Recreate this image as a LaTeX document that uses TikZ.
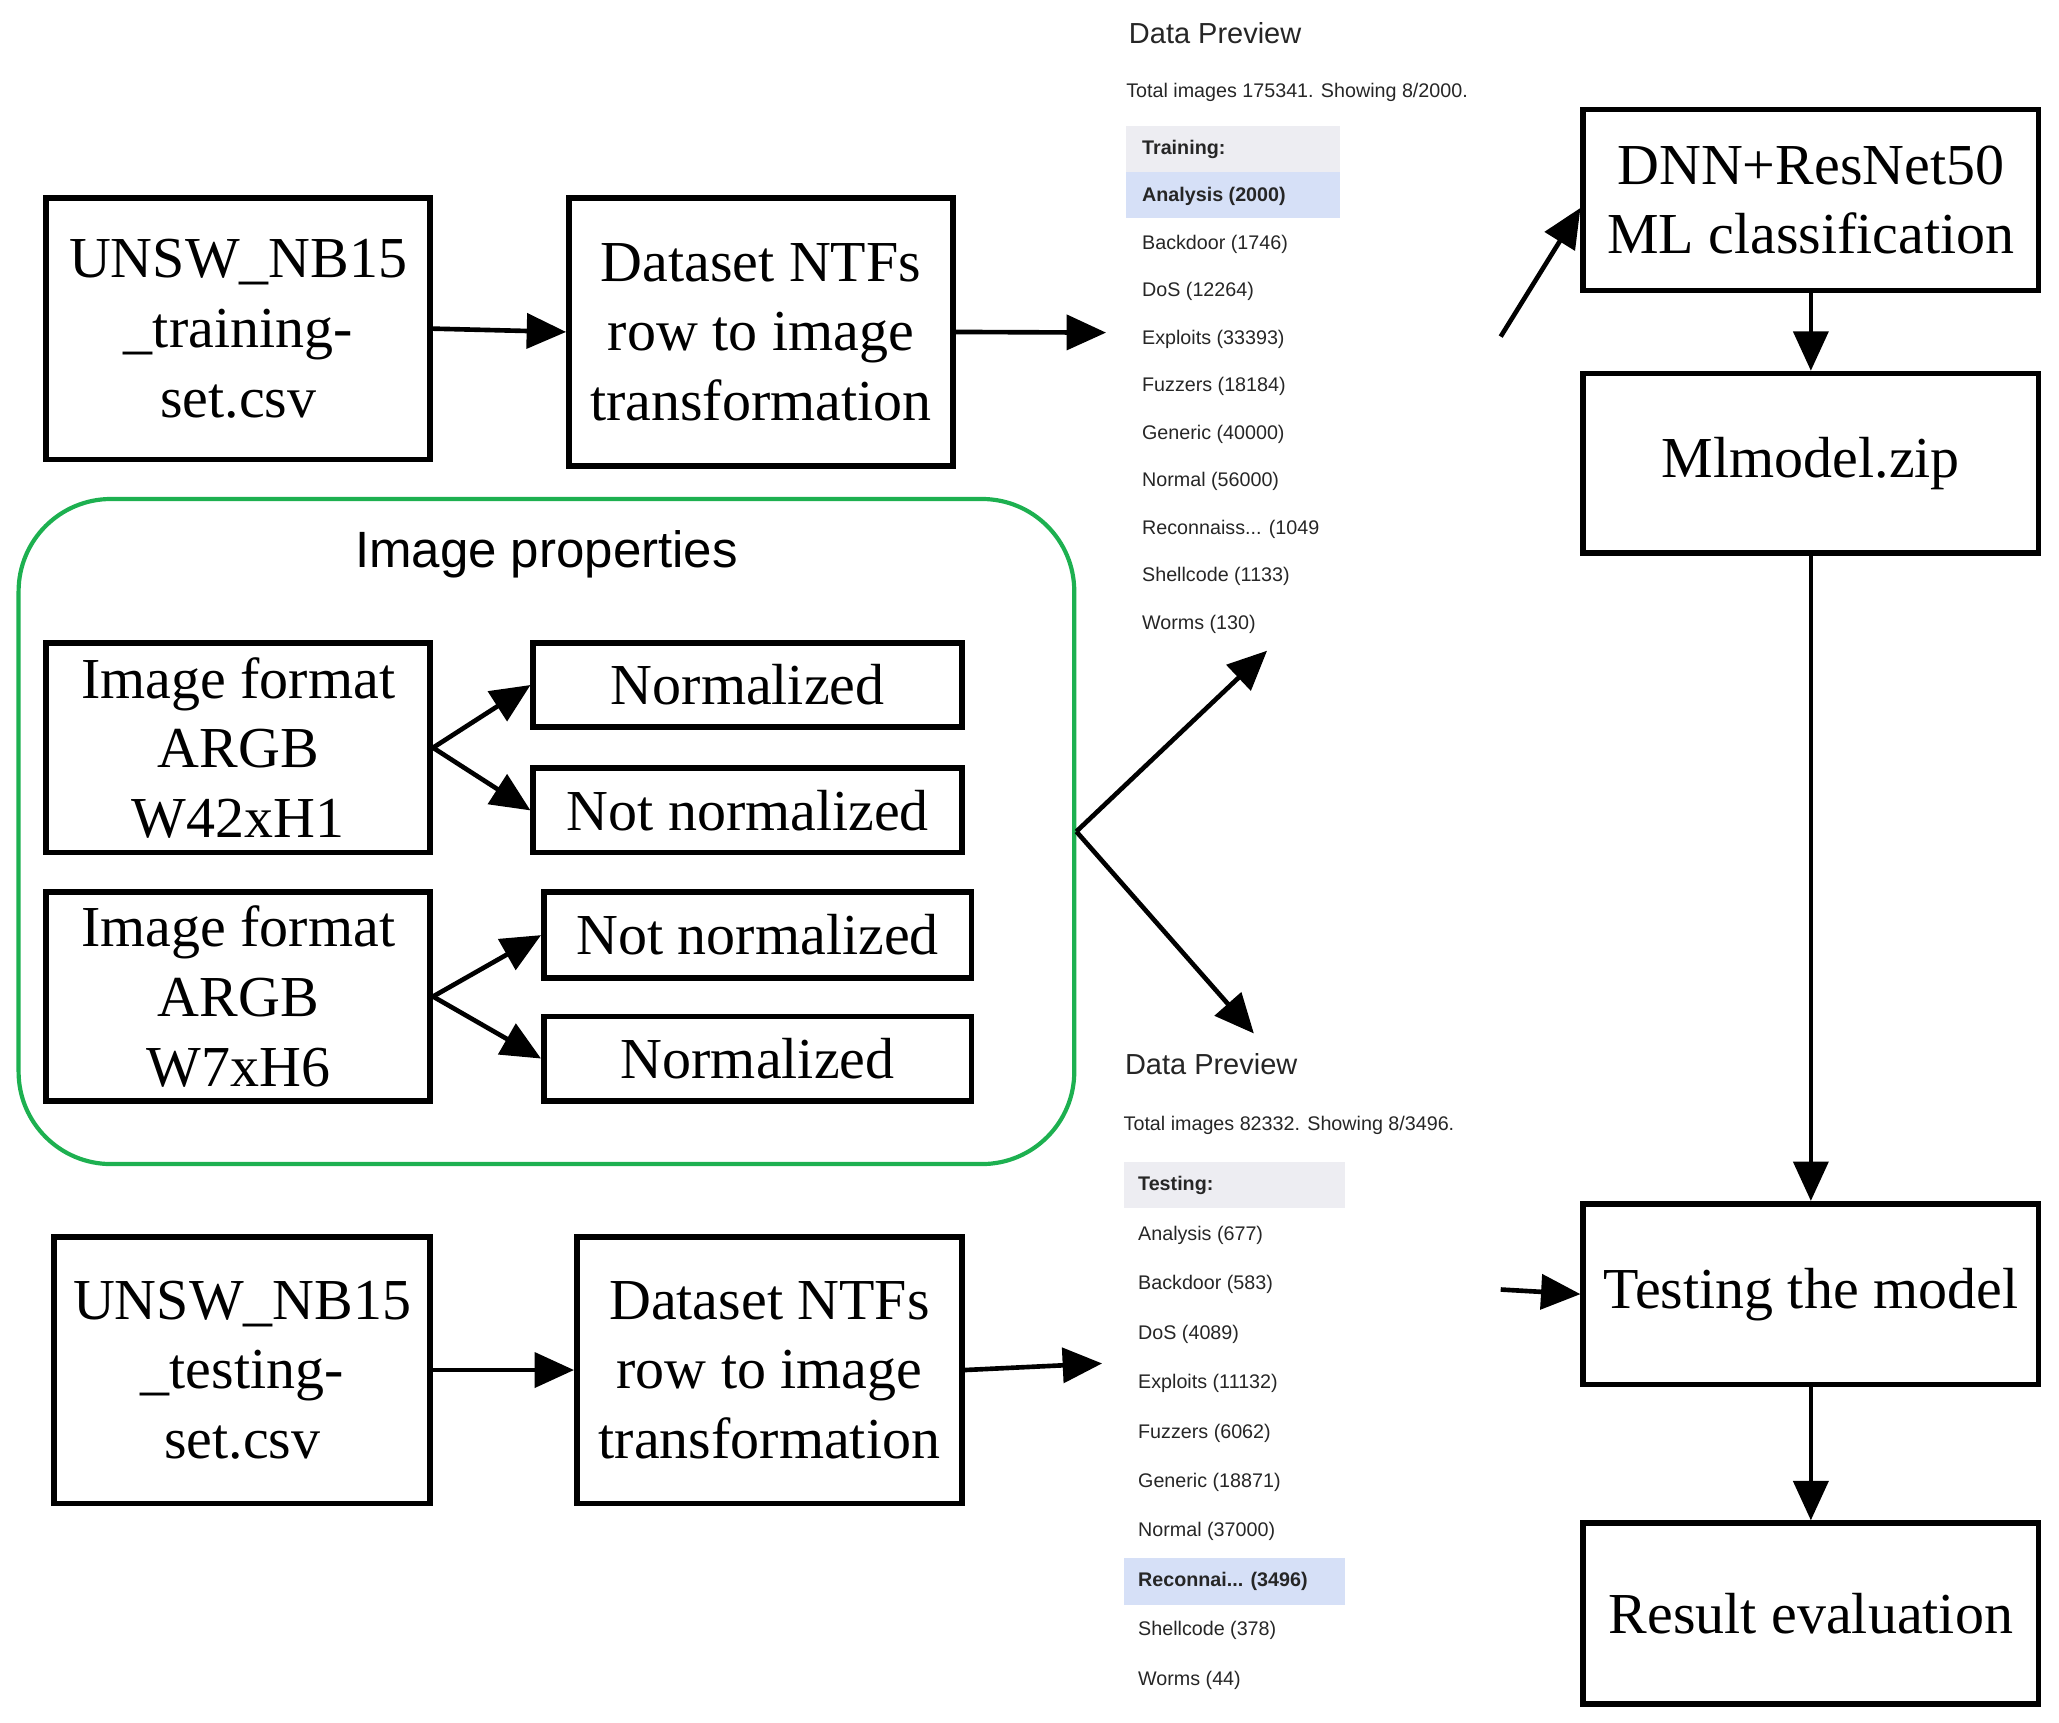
\documentclass[tikz,border=0pt]{standalone}
\usepackage{fontspec}
\setmainfont{Liberation Serif}
\newfontfamily\ui{Liberation Sans}
\usetikzlibrary{arrows.meta}
\definecolor{hdr}{HTML}{EDEDF2}
\definecolor{hil}{HTML}{D6E0F7}
\definecolor{grn}{HTML}{1DB050}
\begin{document}
\begin{tikzpicture}[x=0.02cm,y=-0.02cm,
 box/.style={draw,line width=2.4pt,inner sep=0pt,align=center,font=\fontsize{25}{30}\selectfont},
 arr/.style={line width=2pt,-{Triangle[length=17pt,width=15pt]}},
 item/.style={anchor=west,inner sep=0pt,font=\ui\fontsize{8.5}{10}\selectfont,text=black!85},
 bitem/.style={item,font=\ui\bfseries\fontsize{8.5}{10}\selectfont},
 dp/.style={anchor=west,inner sep=0pt,font=\ui\fontsize{12.5}{14}\selectfont,text=black!85},
 tot/.style={anchor=west,inner sep=0pt,font=\ui\fontsize{8.5}{10}\selectfont,text=black!85},
 bar/.style={anchor=north west,inner sep=0pt,minimum height=0.7cm}]
\useasboundingbox (0,0) rectangle (1560,1305);
% green container
\node[draw=grn,line width=1.8pt,rounded corners=1.4cm,minimum width=16cm,minimum height=10.08cm,inner sep=0pt] (props) at (414,630) {};
\node[font=\ui\fontsize{22}{26}\selectfont] (pt) at (414,420) {Image properties};
% boxes
\node[box,minimum width=5.82cm,minimum height=3.96cm] (b1) at (180.5,249) {UNSW\_NB15\\\_training-\\set.csv};
\node[box,minimum width=5.82cm,minimum height=4.06cm] (b2) at (576.5,251.5) {Dataset NTFs\\row to image\\transformation};
\node[box,minimum width=6.9cm,minimum height=2.74cm] (dnn) at (1372,151.5) {DNN+ResNet50\\ML classification};
\node[box,minimum width=6.9cm,minimum height=2.72cm] (ml) at (1372,351) {Mlmodel.zip};
\node[box,minimum width=6.9cm,minimum height=2.74cm] (tst) at (1372,980.5) {Testing the model};
\node[box,minimum width=6.9cm,minimum height=2.74cm] (res) at (1372,1222.5) {Result evaluation};
\node[box,minimum width=5.82cm,minimum height=3.18cm] (if1) at (180.5,566.5) {Image format\\ARGB\\W42xH1};
\node[box,minimum width=6.5cm,minimum height=1.28cm] (n1) at (566.5,519) {Normalized};
\node[box,minimum width=6.5cm,minimum height=1.28cm] (nn1) at (566.5,614) {Not normalized};
\node[box,minimum width=5.82cm,minimum height=3.16cm] (if2) at (180.5,755) {Image format\\ARGB\\W7xH6};
\node[box,minimum width=6.48cm,minimum height=1.3cm] (nn2) at (574,708.5) {Not normalized};
\node[box,minimum width=6.48cm,minimum height=1.28cm] (n2) at (574,802) {Normalized};
\node[box,minimum width=5.7cm,minimum height=4.04cm] (ut) at (183.5,1038) {UNSW\_NB15\\\_testing-\\set.csv};
\node[box,minimum width=5.84cm,minimum height=4.04cm] (dt) at (583,1038) {Dataset NTFs\\row to image\\transformation};
% top data preview
\node[dp] (dp1) at (855,25) {Data Preview};
\node[tot] (t1) at (853,70) {Total images 175341. Showing 8/2000.};
\node[bar,fill=hdr,minimum width=3.24cm] (h1) at (853,95) {};
\node[bar,fill=hil,minimum width=3.24cm] (a1) at (853,130) {};
\node[bitem] (tr) at (865,113) {Training:};
\node[bitem] (i0) at (865,149) {Analysis (2000)};
\node[item] (i1) at (865,185) {Backdoor (1746)};
\node[item] (i2) at (865,221) {DoS (12264)};
\node[item] (i3) at (865,257) {Exploits (33393)};
\node[item] (i4) at (865,293) {Fuzzers (18184)};
\node[item] (i5) at (865,329) {Generic (40000)};
\node[item] (i6) at (865,365) {Normal (56000)};
\node[item] (i7) at (865,401) {Reconnaiss... (1049};
\node[item] (i8) at (865,437) {Shellcode (1133)};
\node[item] (i9) at (865,473) {Worms (130)};
% bottom data preview
\node[dp] (dp2) at (852,806) {Data Preview};
\node[tot] (t2) at (851,853) {Total images 82332. Showing 8/3496.};
\node[bar,fill=hdr,minimum width=3.36cm] (h2) at (851,880) {};
\node[bar,fill=hil,minimum width=3.36cm,minimum height=0.72cm] (a2) at (851,1180) {};
\node[bitem] (te) at (862,898) {Testing:};
\node[item] (j0) at (862,936) {Analysis (677)};
\node[item] (j1) at (862,973) {Backdoor (583)};
\node[item] (j2) at (862,1011) {DoS (4089)};
\node[item] (j3) at (862,1048) {Exploits (11132)};
\node[item] (j4) at (862,1086) {Fuzzers (6062)};
\node[item] (j5) at (862,1123) {Generic (18871)};
\node[item] (j6) at (862,1160) {Normal (37000)};
\node[bitem] (j7) at (862,1198) {Reconnai... (3496)};
\node[item] (j8) at (862,1235) {Shellcode (378)};
\node[item] (j9) at (862,1273) {Worms (44)};
% free ends
\coordinate (e1) at (838,252);
\coordinate (s1) at (1137,255);
\coordinate (u1) at (960,493);
\coordinate (d1) at (950,783);
\coordinate (e2) at (835,1033);
\coordinate (s2) at (1137,977);
% connectors
\draw[arr] (b1.east) -- (b2.west);
\draw[arr] (b2.east) -- (e1);
\draw[arr] (s1) -- ([yshift=-0.12cm]dnn.west);
\draw[arr] (dnn.south) -- (ml.north);
\draw[arr] (ml.south) -- (tst.north);
\draw[arr] (s2) -- (tst.west);
\draw[arr] (tst.south) -- (res.north);
\draw[arr] (if1.east) -- (n1.west);
\draw[arr] (if1.east) -- (nn1.west);
\draw[arr] (if2.east) -- (nn2.west);
\draw[arr] (if2.east) -- (n2.west);
\draw[arr] (props.east) -- (u1);
\draw[arr] (props.east) -- (d1);
\draw[arr] (ut.east) -- (dt.west);
\draw[arr] (dt.east) -- (e2);
\end{tikzpicture}
\end{document}
